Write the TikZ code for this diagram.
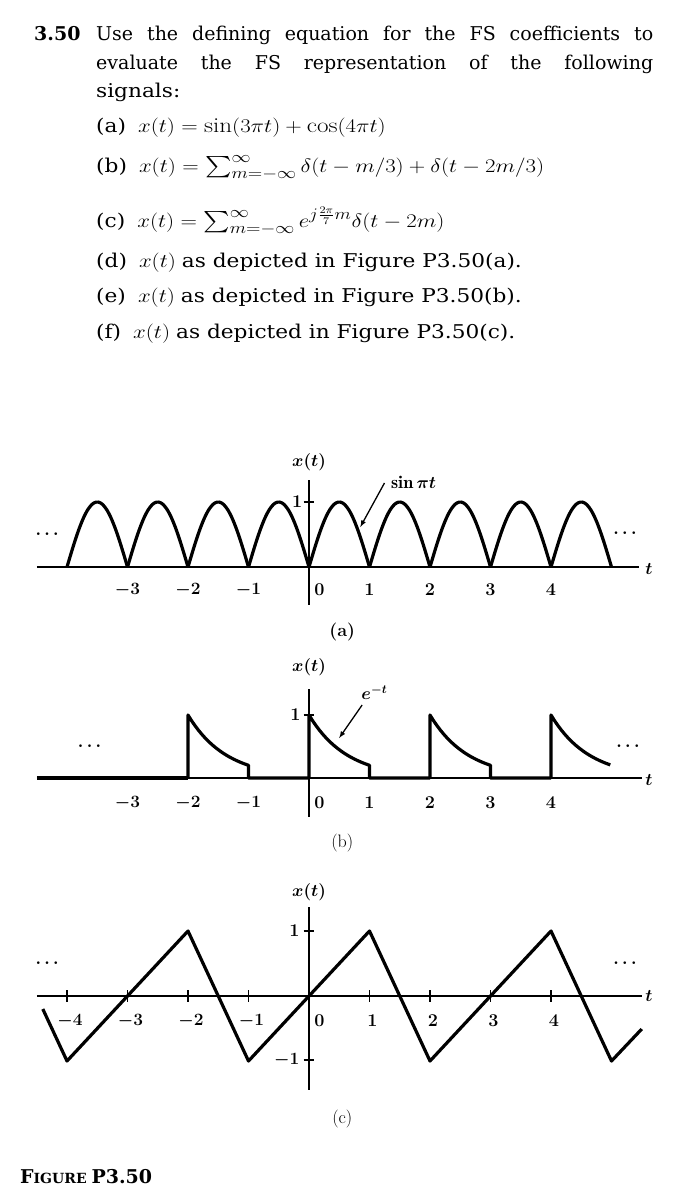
\documentclass[tikz,border=0pt]{standalone}
\usepackage{amsmath,amssymb,graphicx}
\usepackage{fontspec}
\newfontfamily\txtfont{DejaVu Serif}
\newcommand{\Mth}[1]{\scalebox{1.32}[1.12]{$#1$}}
\newcommand{\Wd}[1]{\scalebox{1.14}[1]{#1}}
\begin{document}
\begin{tikzpicture}[x=1pt,y=-1pt,
  sig/.style={line width=3.2pt,line join=round},
  ax/.style={line width=1.3pt},
  lbl/.style={font=\fontsize{18}{20}\selectfont\bfseries\boldmath},
  txt/.style={font=\fontsize{19}{27}\selectfont\txtfont,anchor=base west,inner sep=0pt}]
\useasboundingbox (0,0) rectangle (678,1204);
% text
\node[txt,font=\fontsize{19}{27}\selectfont\txtfont\bfseries] (num) at (34,41) {3.50};
\node[txt] (l1) at (96,41) {\makebox[557pt][s]{Use the defining equation for the FS coefficients to}};
\node[txt] (l2) at (96,70) {\makebox[557pt][s]{evaluate the FS representation of the following}};
\node[txt] (l3) at (96,98) {\Wd{signals:}};
\node[txt] (ia) at (96,132) {\Wd{(a)}\ \ \Mth{x(t)=\mathrm{sin}(3\pi t)+\mathrm{cos}(4\pi t)}};
\node[txt] (ib) at (96,172) {\Wd{(b)}\ \ \Mth{x(t)=\textstyle\sum_{m=-\infty}^{\infty}\delta(t-m/3)+\delta(t-2m/3)}};
\node[txt] (ic) at (96,227) {\Wd{(c)}\ \ \Mth{x(t)=\textstyle\sum_{m=-\infty}^{\infty}e^{j\frac{2\pi}{7}m}\delta(t-2m)}};
\node[txt] (id) at (96,267) {\Wd{(d)}\ \ \Mth{x(t)}\ \Wd{as depicted in Figure P3.50(a).}};
\node[txt] (ie) at (96,302) {\Wd{(e)}\ \ \Mth{x(t)}\ \Wd{as depicted in Figure P3.50(b).}};
\node[txt] (if) at (96,338) {\Wd{(f)}\ \ \Mth{x(t)}\ \Wd{as depicted in Figure P3.50(c).}};
% ---------- (a)
\begin{scope}[shift={(309,567)},xscale=60.5]
\draw[ax] (-4.5,0) -- (5.45,0);
\draw[ax] (0,-87) -- (0,38);
\draw[ax] (-0.09,-65) -- (0.09,-65);
\node[lbl] (at) at (5.62,2) {$t$};
\node[lbl] (ax) at (0,-105) {$x(t)$};
\node[lbl,anchor=east,inner sep=1pt] (a1) at (-0.09,-65) {1};
\foreach \k in {-4,...,4}
  \draw[sig] (\k,0) -- plot[domain=0:1,samples=30,smooth] ({\k+\x},{-65*sin(180*\x)}) -- ({\k+1},0);
\foreach \k/\l in {-3/$-3$,-2/$-2$,-1/$-1$,1/1,2/2,3/3,4/4}
  \node[lbl] at (\k,23) {\l};
\node[lbl,anchor=west] at (0.03,23) {0};
\node[lbl] (sinl) at (1.73,-85) {$\sin\pi t$};
\coordinate (sinfrom) at (1.25,-84);
\coordinate (sintip) at (0.85,-40);
\draw[line width=1.3pt,-latex] (sinfrom) -- (sintip);
\node[lbl] at (-4.3,-33) {$\cdots$};
\node[lbl] at (5.25,-34) {$\cdots$};
\node[lbl,font=\fontsize{18}{20}\selectfont\bfseries] (capa) at (0.55,65) {(a)};
\end{scope}
% ---------- (b)
\begin{scope}[shift={(309,778)},xscale=60.5]
\draw[ax] (-4.5,0) -- (5.5,0);
\draw[ax] (0,-89) -- (0,39);
\draw[ax] (-0.09,-63) -- (0.09,-63);
\node[lbl] at (5.62,2) {$t$};
\node[lbl] at (0,-111) {$x(t)$};
\node[lbl,anchor=east,inner sep=1pt] at (-0.12,-63) {1};
\draw[sig] (-4.5,0) -- (-2,0);
\foreach \k in {-2,0,2}
  \draw[sig] (\k,0) -- (\k,-63) -- plot[domain=0:1,samples=30,smooth] ({\k+\x},{-63*exp(-1.6*\x)}) -- ({\k+1},0) -- ({\k+2},0);
\draw[sig] (4,0) -- (4,-63) -- plot[domain=0:0.98,samples=30,smooth] ({4+\x},{-63*exp(-1.6*\x)});
\foreach \k/\l in {-3/$-3$,-2/$-2$,-1/$-1$,1/1,2/2,3/3,4/4}
  \node[lbl] at (\k,25) {\l};
\node[lbl,anchor=west] at (0.03,25) {0};
\node[lbl] (el) at (1.08,-85) {$e^{-t}$};
\coordinate (efrom) at (0.88,-73);
\coordinate (etip) at (0.5,-40);
\draw[line width=1.3pt,-latex] (efrom) -- (etip);
\node[lbl] at (-3.6,-32) {$\cdots$};
\node[lbl] at (5.3,-32) {$\cdots$};
\node[lbl,font=\fontsize{18}{20}\selectfont] at (0.55,65) {(b)};
\end{scope}
% ---------- (c)
\begin{scope}[shift={(309,996)},xscale=60.5]
\draw[ax] (-4.5,0) -- (5.5,0);
\draw[ax] (0,-89) -- (0,94);
\foreach \k in {-4,...,4} \draw[ax] (\k,-6) -- (\k,6);
\draw[ax] (-0.09,-65) -- (0.09,-65);
\draw[ax] (-0.09,64) -- (0.09,64);
\node[lbl] at (5.62,0) {$t$};
\node[lbl] at (0,-104) {$x(t)$};
\node[lbl,anchor=east] at (-0.1,-65) {1};
\node[lbl,anchor=east] at (-0.1,64) {$-1$};
\draw[sig] (-4.4,13) -- (-4,65) -- (-2,-65) -- (-1,65) -- (1,-65) -- (2,65) -- (4,-65) -- (5,65) -- (5.5,33);
\foreach \k/\l in {-4/$-4$,-3/$-3$,-2/$-2$,-1/$-1$,1/1,2/2,3/3,4/4}
  \node[lbl] at (\k+0.05,25) {\l};
\node[lbl,anchor=west] at (0.03,25) {0};
\node[lbl] at (-4.3,-33) {$\cdots$};
\node[lbl] at (5.25,-33) {$\cdots$};
\node[lbl,font=\fontsize{18}{20}\selectfont] at (0.55,123) {(c)};
\end{scope}
\node[anchor=base west,inner sep=0pt,font=\fontsize{19}{20}\selectfont\txtfont\bfseries] (fig) at (20,1183) {F\fontsize{14}{16}\selectfont IGURE \fontsize{19}{20}\selectfont P3.50};
\end{tikzpicture}
\end{document}
